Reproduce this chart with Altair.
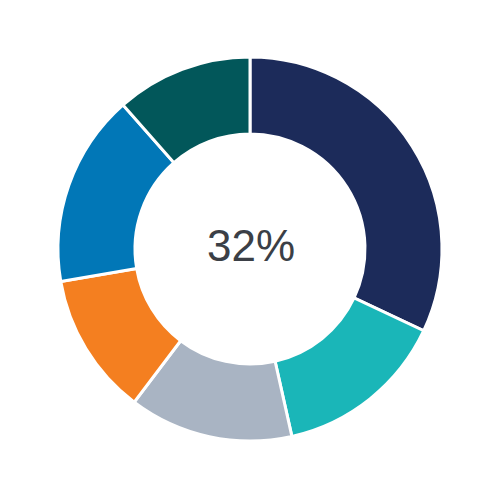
import altair as alt
import pandas as pd

categories = ["A", "B", "C", "D", "E", "F"]
values = [32, 14.5, 13.8, 12, 16.2, 11.5]
colors = ["#1c2b5a", "#1ab6b8", "#a9b4c3", "#f47f20", "#0177b7", "#02575a"]
center_label = "32%"

df = pd.DataFrame({"cat": categories, "value": values, "idx": list(range(len(values)))})

arcs = alt.Chart(df).mark_arc(innerRadius=115, outerRadius=192, stroke="white", strokeWidth=3).encode(
    theta=alt.Theta("value:Q", stack=True),
    color=alt.Color("cat:N", scale=alt.Scale(domain=categories, range=colors), legend=None),
    order=alt.Order("idx:Q"),
    x=alt.value(242),
    y=alt.value(241),
)

text = alt.Chart(pd.DataFrame({"t": [center_label]})).mark_text(
    fontSize=44, font="Liberation Sans", color="#3b3f46", align="center", baseline="middle"
).encode(text="t:N", x=alt.value(243), y=alt.value(240))

chart = alt.layer(arcs, text).properties(
    width=484, height=484, autosize=alt.AutoSizeParams(type="none"), padding=0
).configure_view(stroke=None)

chart.save("out.html", embed_options={"renderer": "svg", "actions": False})
